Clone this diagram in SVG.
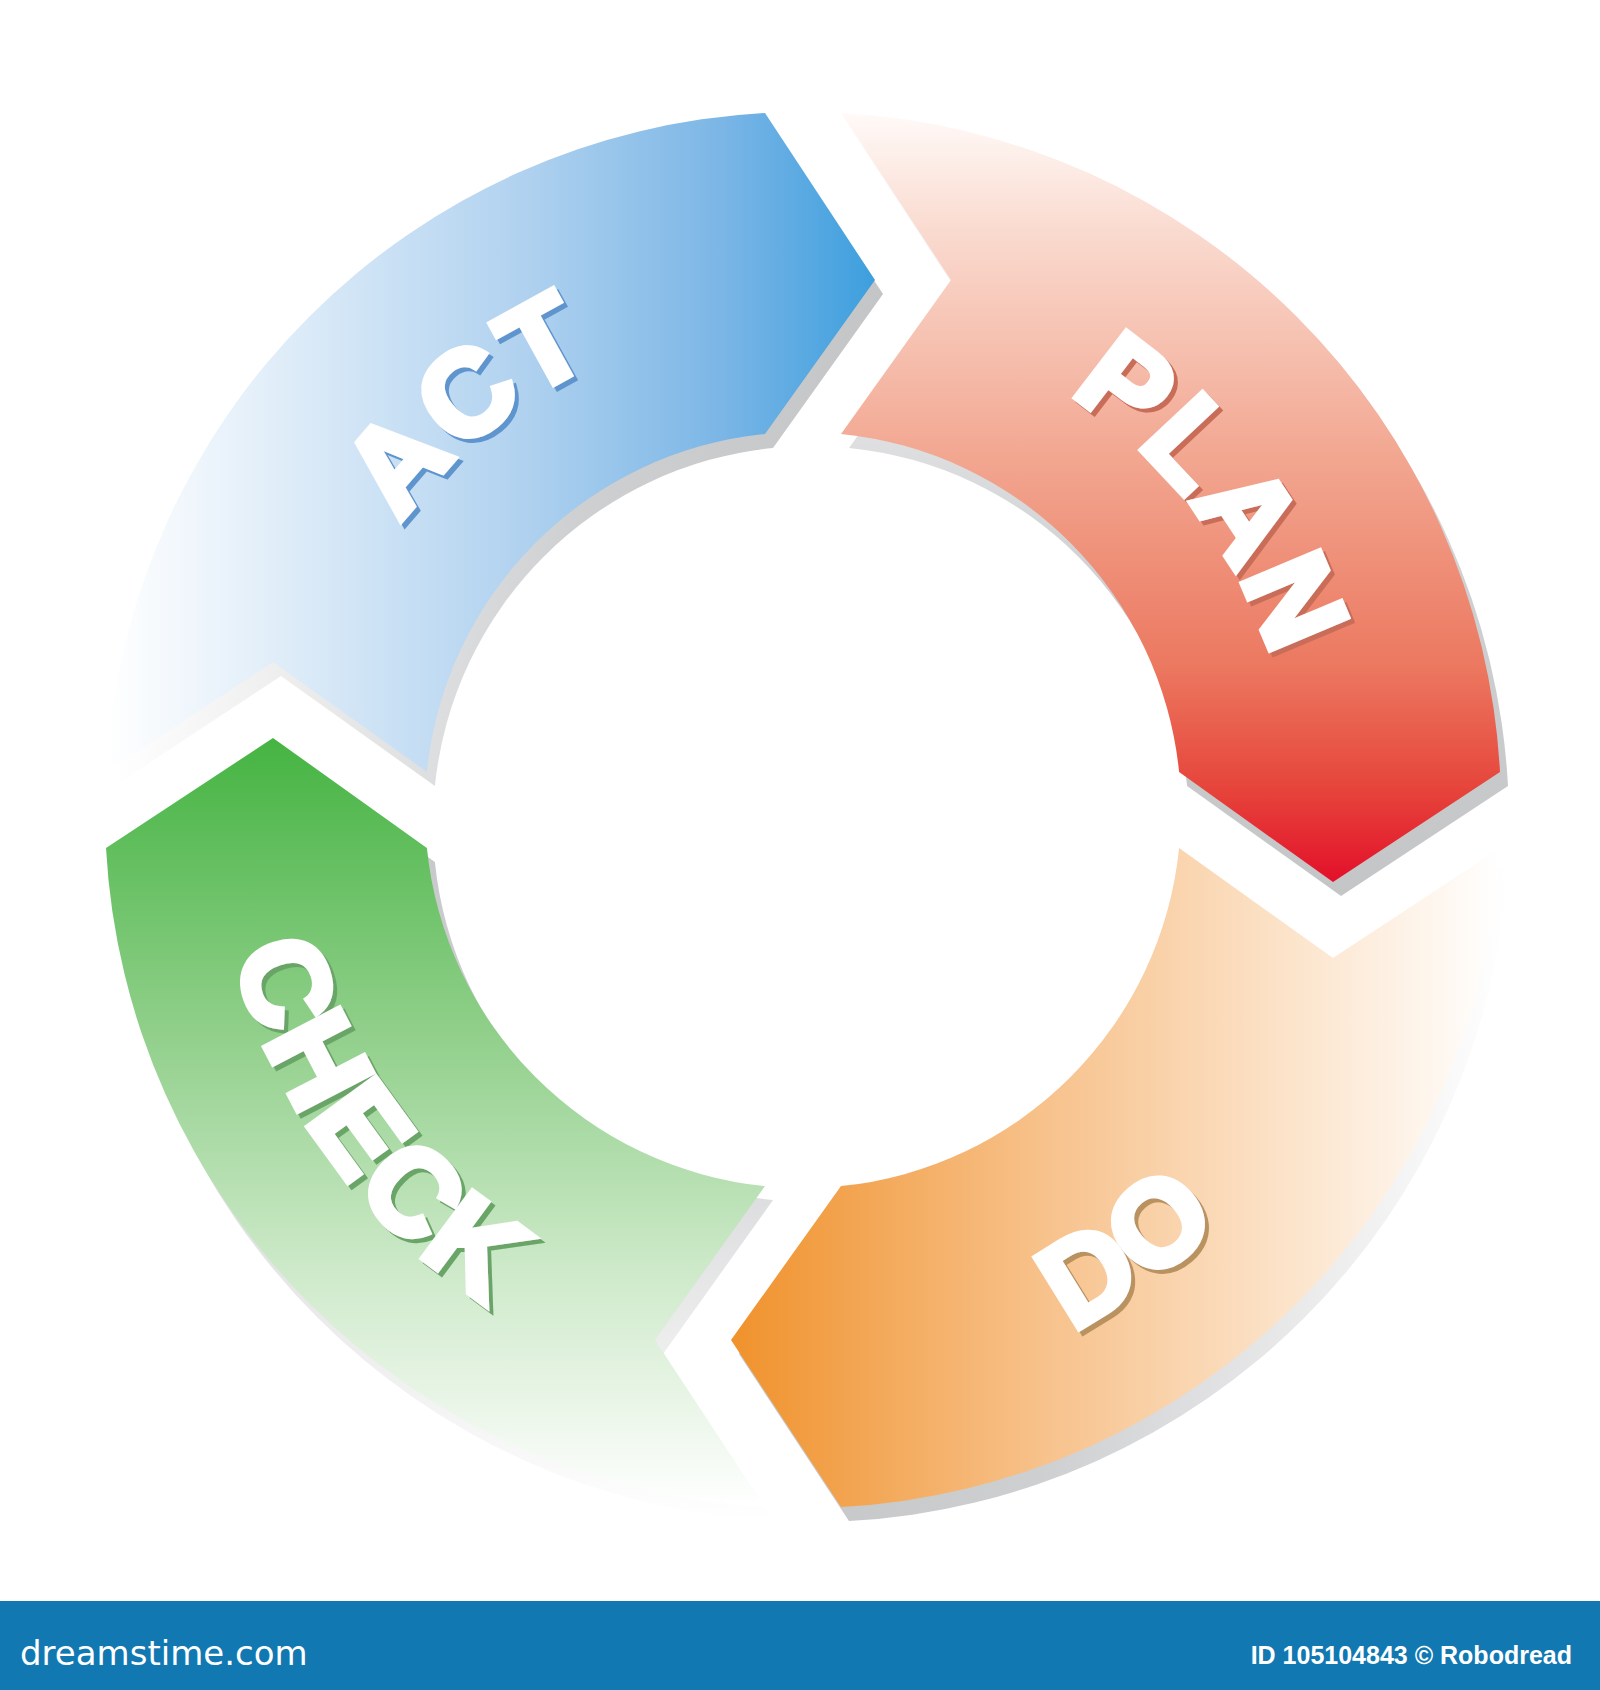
<svg xmlns="http://www.w3.org/2000/svg" xmlns:xlink="http://www.w3.org/1999/xlink" width="1600" height="1690" viewBox="0 0 1600 1690">
  <style>
    .lbl { font-family: "Liberation Sans", Arial, sans-serif; font-weight: bold; font-size: 120px; letter-spacing: 4px; fill: #ffffff; stroke: #ffffff; stroke-width: 7px; stroke-linejoin: miter; }
    .banner-l { font-family: "DejaVu Sans", "Liberation Sans", sans-serif; font-size: 34px; fill: #ffffff; }
    .banner-r { font-family: "Liberation Sans", Arial, sans-serif; font-weight: bold; font-size: 25px; fill: #ffffff; }
  </style>
  <defs>
    <path id="seg" d="M841,113 A698,698 0 0 1 1500,772 L1333,882 L1179.1,772 A378,378 0 0 0 841,433.9 L951,280 Z"/>
    <linearGradient id="g-plan" gradientUnits="userSpaceOnUse" x1="1170" y1="113" x2="1170" y2="882">
      <stop offset="0" stop-color="#fffaf8"/>
      <stop offset="0.15" stop-color="#fadbd0"/>
      <stop offset="0.45" stop-color="#f2a690"/>
      <stop offset="0.72" stop-color="#ec7860"/>
      <stop offset="0.88" stop-color="#e6443b"/>
      <stop offset="1" stop-color="#e3102a"/>
    </linearGradient>
    <linearGradient id="g-do" gradientUnits="userSpaceOnUse" x1="1170" y1="113" x2="1170" y2="882">
      <stop offset="0" stop-color="#ffffff"/>
      <stop offset="0.25" stop-color="#fce6cf"/>
      <stop offset="0.6" stop-color="#f7c18a"/>
      <stop offset="1" stop-color="#f0922c"/>
    </linearGradient>
    <linearGradient id="g-check" gradientUnits="userSpaceOnUse" x1="1170" y1="113" x2="1170" y2="882">
      <stop offset="0" stop-color="#ffffff"/>
      <stop offset="0.3" stop-color="#cfeacb"/>
      <stop offset="0.62" stop-color="#90cf8a"/>
      <stop offset="1" stop-color="#45b442"/>
    </linearGradient>
    <linearGradient id="g-act" gradientUnits="userSpaceOnUse" x1="1170" y1="113" x2="1170" y2="882">
      <stop offset="0" stop-color="#ffffff"/>
      <stop offset="0.25" stop-color="#dcebf8"/>
      <stop offset="0.55" stop-color="#afd1ef"/>
      <stop offset="0.8" stop-color="#7bb6e6"/>
      <stop offset="1" stop-color="#3d9fde"/>
    </linearGradient>
    <linearGradient id="g-shadow" gradientUnits="userSpaceOnUse" x1="1170" y1="113" x2="1170" y2="882">
      <stop offset="0" stop-color="#c6c7c9" stop-opacity="0"/>
      <stop offset="0.25" stop-color="#c6c7c9" stop-opacity="0.35"/>
      <stop offset="0.6" stop-color="#c6c7c9" stop-opacity="0.85"/>
      <stop offset="1" stop-color="#c4c5c7" stop-opacity="1"/>
    </linearGradient>
    <filter id="ts-plan" x="-20%" y="-20%" width="140%" height="140%">
      <feOffset in="SourceAlpha" dx="4" dy="4" result="o"/>
      <feFlood flood-color="#c96c58"/>
      <feComposite in2="o" operator="in" result="s"/>
      <feMerge><feMergeNode in="s"/><feMergeNode in="SourceGraphic"/></feMerge>
    </filter>
    <filter id="ts-do" x="-20%" y="-20%" width="140%" height="140%">
      <feOffset in="SourceAlpha" dx="4" dy="4" result="o"/>
      <feFlood flood-color="#b9925f"/>
      <feComposite in2="o" operator="in" result="s"/>
      <feMerge><feMergeNode in="s"/><feMergeNode in="SourceGraphic"/></feMerge>
    </filter>
    <filter id="ts-check" x="-20%" y="-20%" width="140%" height="140%">
      <feOffset in="SourceAlpha" dx="4" dy="4" result="o"/>
      <feFlood flood-color="#6aa567"/>
      <feComposite in2="o" operator="in" result="s"/>
      <feMerge><feMergeNode in="s"/><feMergeNode in="SourceGraphic"/></feMerge>
    </filter>
    <filter id="ts-act" x="-20%" y="-20%" width="140%" height="140%">
      <feOffset in="SourceAlpha" dx="4" dy="4" result="o"/>
      <feFlood flood-color="#5f95ce"/>
      <feComposite in2="o" operator="in" result="s"/>
      <feMerge><feMergeNode in="s"/><feMergeNode in="SourceGraphic"/></feMerge>
    </filter>
    <path id="tp-act" d="M395.9,1089.8 A494,494 0 0 1 1155.4,463.8"/>
    <path id="tp-plan" d="M537.6,393.4 A494,494 0 0 1 1136.7,1174.2"/>
    <path id="tp-do" d="M364.1,1198.3 A586,586 0 0 0 1302.6,503.8"/>
    <path id="tp-check" d="M418.5,367.7 A586,586 0 0 0 1104.8,1312.3"/>
  </defs>

  <rect x="0" y="0" width="1600" height="1690" fill="#ffffff"/>

  <g id="shadows" transform="translate(8,14)">
    <use xlink:href="#seg" href="#seg" fill="url(#g-shadow)"/>
    <use xlink:href="#seg" href="#seg" fill="url(#g-shadow)" transform="rotate(90 803 810)"/>
    <use xlink:href="#seg" href="#seg" fill="url(#g-shadow)" transform="rotate(180 803 810)"/>
    <use xlink:href="#seg" href="#seg" fill="url(#g-shadow)" transform="rotate(270 803 810)"/>
  </g>

  <g id="node-plan">
    <use xlink:href="#seg" href="#seg" fill="url(#g-plan)"/>
    <text class="lbl" filter="url(#ts-plan)"><textPath href="#tp-plan" xlink:href="#tp-plan" startOffset="50%" text-anchor="middle">PLAN</textPath></text>
  </g>

  <g id="node-do">
    <use xlink:href="#seg" href="#seg" fill="url(#g-do)" transform="rotate(90 803 810)"/>
    <text class="lbl" filter="url(#ts-do)"><textPath href="#tp-do" xlink:href="#tp-do" startOffset="50%" text-anchor="middle">DO</textPath></text>
  </g>

  <g id="node-check">
    <use xlink:href="#seg" href="#seg" fill="url(#g-check)" transform="rotate(180 803 810)"/>
    <text class="lbl" filter="url(#ts-check)"><textPath href="#tp-check" xlink:href="#tp-check" startOffset="50%" text-anchor="middle">CHECK</textPath></text>
  </g>

  <g id="node-act">
    <use xlink:href="#seg" href="#seg" fill="url(#g-act)" transform="rotate(270 803 810)"/>
    <text class="lbl" filter="url(#ts-act)"><textPath href="#tp-act" xlink:href="#tp-act" startOffset="50%" text-anchor="middle">ACT</textPath></text>
  </g>

  <g id="connectors"></g>

  <g id="banner">
    <rect x="0" y="1601" width="1600" height="89" fill="#1178b1"/>
    <text class="banner-l" x="20" y="1665">dreamstime.com</text>
    <text class="banner-r" x="1572" y="1664" text-anchor="end">ID 105104843 © Robodread</text>
  </g>
</svg>
